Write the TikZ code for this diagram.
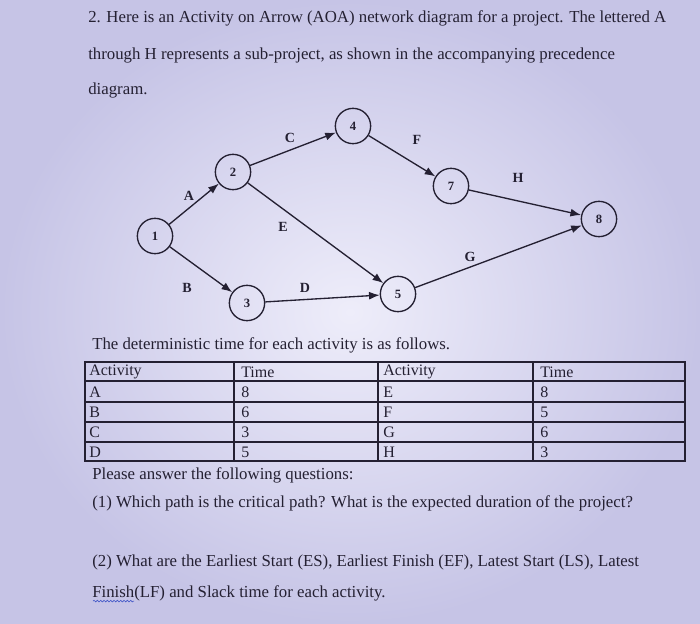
\documentclass[tikz,border=0pt]{standalone}
\usepackage{fontspec}
\setmainfont{Liberation Serif}
\usetikzlibrary{arrows.meta,decorations.pathmorphing}
\definecolor{paper}{RGB}{238,237,250}
\definecolor{paperedge}{RGB}{198,196,230}
\definecolor{ink}{RGB}{36,32,50}
\definecolor{squiggle}{RGB}{70,90,200}
\tikzset{
  event/.style={circle, draw=ink, line width=1pt, minimum size=26.5pt, inner sep=0pt,
    text=ink, font=\fontsize{9.5}{10}\selectfont\bfseries},
  act/.style={draw=ink, line width=1pt, -{Latex[length=8pt,width=6pt]}},
  actlabel/.style={inner sep=0pt, text=ink, font=\fontsize{10.5}{11}\selectfont\bfseries},
  para/.style={anchor=west, inner sep=0pt, text=ink, font=\fontsize{12.6}{15}\selectfont},
  cell/.style={anchor=west, inner sep=0pt, text=ink, font=\fontsize{12}{14}\selectfont}
}

\begin{document}
\begin{tikzpicture}[x=0.75pt,y=-0.75pt]
    \shade[inner color=paper, outer color=paperedge] (0,0) rectangle (700,624);
    \useasboundingbox (0,0) rectangle (700,624);

    % the question
    \node[para] (q1a) at (88,18) {2. Here is an Activity on Arrow (AOA) network diagram for a project. The lettered A};
    \node[para] (q1b) at (88,55) {through H represents a sub-project, as shown in the accompanying precedence};
    \node[para] (q1c) at (88,90) {diagram.};

    % events
    \node[event] (n1) at (155,236) {1};
    \node[event] (n2) at (233,172) {2};
    \node[event] (n3) at (247,303) {3};
    \node[event] (n4) at (353,126) {4};
    \node[event] (n5) at (398,294) {5};
    \node[event] (n7) at (451,186) {7};
    \node[event] (n8) at (599,219) {8};

    % activities
    \draw[act] (n1) -- (n2);
    \draw[act] (n1) -- (n3);
    \draw[act] (n2) -- (n4);
    \draw[act] (n2) -- (n5);
    \draw[act] (n3) -- (n5);
    \draw[act] (n4) -- (n7);
    \draw[act] (n7) -- (n8);
    \draw[act] (n5) -- (n8);

    \node[actlabel] (la) at (189,196) {A};
    \node[actlabel] (lb) at (187,288) {B};
    \node[actlabel] (lc) at (290,138) {C};
    \node[actlabel] (ld) at (305,288) {D};
    \node[actlabel] (le) at (283,227) {E};
    \node[actlabel] (lf) at (417,140) {F};
    \node[actlabel] (lg) at (470,257) {G};
    \node[actlabel] (lh) at (518,178) {H};

    % times table
    \node[para] (intro) at (92,345) {The deterministic time for each activity is as follows.};
    \draw[ink, line width=0.8pt] (85,362) rectangle (685,461);
    \foreach \y in {381,402,422,442}
        \draw[ink, line width=0.8pt] (85,\y) -- (685,\y);
    \foreach \x in {234,378,533}
        \draw[ink, line width=0.8pt] (\x,362) -- (\x,461);
    \foreach \y/\a/\b/\c/\d [count=\i] in {372/Activity/Time/Activity/Time,
        392/A/8/E/8, 412/B/6/F/5, 432/C/3/G/6, 452/D/5/H/3} {
        \node[cell] (t\i a) at (89,\y) {\a};
        \node[cell] (t\i b) at (241,\y) {\b};
        \node[cell] (t\i c) at (383,\y) {\c};
        \node[cell] (t\i d) at (540,\y) {\d};
    }

    % the questions
    \node[para] (ask) at (92,475) {Please answer the following questions:};
    \node[para] (ask1) at (92,503) {(1) Which path is the critical path? What is the expected duration of the project?};
    \node[para] (ask2a) at (92,562) {(2) What are the Earliest Start (ES), Earliest Finish (EF), Latest Start (LS), Latest};
    \node[para] (ask2b) at (92,593) {Finish(LF) and Slack time for each activity.};
    \draw[squiggle, line width=0.5pt, decorate, decoration={snake, amplitude=0.6pt, segment length=2.5pt}]
        ([shift={(1,4)}]ask2b.base west) -- ([shift={(42,4)}]ask2b.base west);
\end{tikzpicture}
\end{document}
